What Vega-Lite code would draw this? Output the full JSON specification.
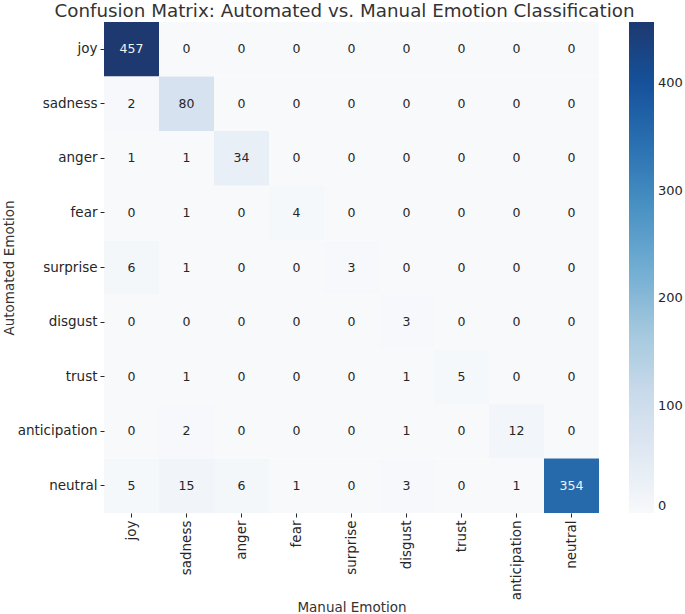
{
  "$schema": "https://vega.github.io/schema/vega-lite/v6.json",
  "width": 495,
  "height": 491,
  "autosize": "none",
  "padding": {"left": 104, "top": 22, "right": 86, "bottom": 101},
  "background": "white",
  "config": {
    "view": {"stroke": null},
    "font": "DejaVu Sans"
  },
  "title": {
    "text": "Confusion Matrix: Automated vs. Manual Emotion Classification",
    "fontSize": 18.3,
    "fontWeight": "normal",
    "color": "#333333",
    "font": "DejaVu Sans",
    "anchor": "middle",
    "dx": -7,
    "offset": 1
  },
  "data": {
    "values": [
      {"automated": "joy", "manual": "joy", "count": 457},
      {"automated": "joy", "manual": "sadness", "count": 0},
      {"automated": "joy", "manual": "anger", "count": 0},
      {"automated": "joy", "manual": "fear", "count": 0},
      {"automated": "joy", "manual": "surprise", "count": 0},
      {"automated": "joy", "manual": "disgust", "count": 0},
      {"automated": "joy", "manual": "trust", "count": 0},
      {"automated": "joy", "manual": "anticipation", "count": 0},
      {"automated": "joy", "manual": "neutral", "count": 0},
      {"automated": "sadness", "manual": "joy", "count": 2},
      {"automated": "sadness", "manual": "sadness", "count": 80},
      {"automated": "sadness", "manual": "anger", "count": 0},
      {"automated": "sadness", "manual": "fear", "count": 0},
      {"automated": "sadness", "manual": "surprise", "count": 0},
      {"automated": "sadness", "manual": "disgust", "count": 0},
      {"automated": "sadness", "manual": "trust", "count": 0},
      {"automated": "sadness", "manual": "anticipation", "count": 0},
      {"automated": "sadness", "manual": "neutral", "count": 0},
      {"automated": "anger", "manual": "joy", "count": 1},
      {"automated": "anger", "manual": "sadness", "count": 1},
      {"automated": "anger", "manual": "anger", "count": 34},
      {"automated": "anger", "manual": "fear", "count": 0},
      {"automated": "anger", "manual": "surprise", "count": 0},
      {"automated": "anger", "manual": "disgust", "count": 0},
      {"automated": "anger", "manual": "trust", "count": 0},
      {"automated": "anger", "manual": "anticipation", "count": 0},
      {"automated": "anger", "manual": "neutral", "count": 0},
      {"automated": "fear", "manual": "joy", "count": 0},
      {"automated": "fear", "manual": "sadness", "count": 1},
      {"automated": "fear", "manual": "anger", "count": 0},
      {"automated": "fear", "manual": "fear", "count": 4},
      {"automated": "fear", "manual": "surprise", "count": 0},
      {"automated": "fear", "manual": "disgust", "count": 0},
      {"automated": "fear", "manual": "trust", "count": 0},
      {"automated": "fear", "manual": "anticipation", "count": 0},
      {"automated": "fear", "manual": "neutral", "count": 0},
      {"automated": "surprise", "manual": "joy", "count": 6},
      {"automated": "surprise", "manual": "sadness", "count": 1},
      {"automated": "surprise", "manual": "anger", "count": 0},
      {"automated": "surprise", "manual": "fear", "count": 0},
      {"automated": "surprise", "manual": "surprise", "count": 3},
      {"automated": "surprise", "manual": "disgust", "count": 0},
      {"automated": "surprise", "manual": "trust", "count": 0},
      {"automated": "surprise", "manual": "anticipation", "count": 0},
      {"automated": "surprise", "manual": "neutral", "count": 0},
      {"automated": "disgust", "manual": "joy", "count": 0},
      {"automated": "disgust", "manual": "sadness", "count": 0},
      {"automated": "disgust", "manual": "anger", "count": 0},
      {"automated": "disgust", "manual": "fear", "count": 0},
      {"automated": "disgust", "manual": "surprise", "count": 0},
      {"automated": "disgust", "manual": "disgust", "count": 3},
      {"automated": "disgust", "manual": "trust", "count": 0},
      {"automated": "disgust", "manual": "anticipation", "count": 0},
      {"automated": "disgust", "manual": "neutral", "count": 0},
      {"automated": "trust", "manual": "joy", "count": 0},
      {"automated": "trust", "manual": "sadness", "count": 1},
      {"automated": "trust", "manual": "anger", "count": 0},
      {"automated": "trust", "manual": "fear", "count": 0},
      {"automated": "trust", "manual": "surprise", "count": 0},
      {"automated": "trust", "manual": "disgust", "count": 1},
      {"automated": "trust", "manual": "trust", "count": 5},
      {"automated": "trust", "manual": "anticipation", "count": 0},
      {"automated": "trust", "manual": "neutral", "count": 0},
      {"automated": "anticipation", "manual": "joy", "count": 0},
      {"automated": "anticipation", "manual": "sadness", "count": 2},
      {"automated": "anticipation", "manual": "anger", "count": 0},
      {"automated": "anticipation", "manual": "fear", "count": 0},
      {"automated": "anticipation", "manual": "surprise", "count": 0},
      {"automated": "anticipation", "manual": "disgust", "count": 1},
      {"automated": "anticipation", "manual": "trust", "count": 0},
      {"automated": "anticipation", "manual": "anticipation", "count": 12},
      {"automated": "anticipation", "manual": "neutral", "count": 0},
      {"automated": "neutral", "manual": "joy", "count": 5},
      {"automated": "neutral", "manual": "sadness", "count": 15},
      {"automated": "neutral", "manual": "anger", "count": 6},
      {"automated": "neutral", "manual": "fear", "count": 1},
      {"automated": "neutral", "manual": "surprise", "count": 0},
      {"automated": "neutral", "manual": "disgust", "count": 3},
      {"automated": "neutral", "manual": "trust", "count": 0},
      {"automated": "neutral", "manual": "anticipation", "count": 1},
      {"automated": "neutral", "manual": "neutral", "count": 354}
    ]
  },
  "encoding": {
    "x": {
      "field": "manual",
      "type": "nominal",
      "sort": ["joy", "sadness", "anger", "fear", "surprise", "disgust", "trust", "anticipation", "neutral"],
      "scale": {"paddingInner": 0, "paddingOuter": 0},
      "axis": {
        "title": "Manual Emotion",
        "titleFont": "DejaVu Sans",
        "titleFontSize": 13.5,
        "titleFontWeight": "normal",
        "titleColor": "#333333",
        "titlePadding": 1,
        "labelAngle": 270,
        "labelFontSize": 13.5,
        "labelColor": "#262626",
        "labelPadding": 3,
        "domain": false,
        "tickColor": "#262626",
        "tickSize": 4,
        "grid": false
      }
    },
    "y": {
      "field": "automated",
      "type": "nominal",
      "sort": ["joy", "sadness", "anger", "fear", "surprise", "disgust", "trust", "anticipation", "neutral"],
      "scale": {"paddingInner": 0, "paddingOuter": 0},
      "axis": {
        "title": "Automated Emotion",
        "titleFont": "DejaVu Sans",
        "titleFontSize": 13.5,
        "titleFontWeight": "normal",
        "titleColor": "#333333",
        "titlePadding": 1,
        "labelFontSize": 13.5,
        "labelColor": "#262626",
        "labelPadding": 3,
        "domain": false,
        "tickColor": "#262626",
        "tickSize": 4,
        "grid": false
      }
    }
  },
  "layer": [
    {
      "mark": {"type": "rect"},
      "encoding": {
        "color": {
          "field": "count",
          "type": "quantitative",
          "scale": {
            "domain": [0, 457],
            "range": ["#f7f9fb", "#dfe8f2", "#c8d9ea", "#a1c7dd", "#70acd2", "#4891c3", "#2a70b1", "#16519a", "#1d3970"],
            "interpolate": "rgb"
          },
          "legend": {
            "title": null,
            "orient": "none",
            "legendX": 525,
            "legendY": 0,
            "direction": "vertical",
            "gradientLength": 491,
            "gradientThickness": 25,
            "gradientStrokeWidth": 0,
            "values": [0, 100, 200, 300, 400],
            "labelFontSize": 13,
            "labelColor": "#262626",
            "labelOffset": 4,
            "padding": 0
          }
        }
      }
    },
    {
      "mark": {"type": "text", "fontSize": 12.5, "font": "DejaVu Sans"},
      "encoding": {
        "text": {"field": "count", "type": "quantitative"},
        "color": {
          "condition": {"test": "datum.count > 250", "value": "#f2f2f2"},
          "value": "#262626"
        }
      }
    }
  ]
}
